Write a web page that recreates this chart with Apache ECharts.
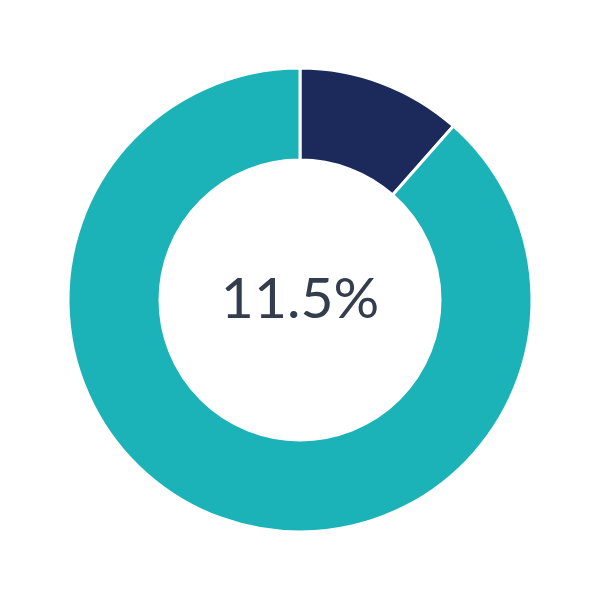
<!DOCTYPE html>
<html><head><meta charset="utf-8">
<script src="https://cdn.jsdelivr.net/npm/echarts@6/dist/echarts.min.js"></script>
<style>html,body{margin:0;padding:0;background:#fff}#c{width:600px;height:600px}</style>
</head><body><div id="c"></div>
<script>
const categories = ['Share', 'Rest'];
const values = [11.5, 88.5];
const centerLabel = '11.5%';
const colors = ['#1b2a5a', '#1bb3b8'];
const chart = echarts.init(document.getElementById('c'));
chart.setOption({
  animation: false,
  title: {
    text: centerLabel, left: 'center', top: 'middle',
    textStyle: { fontFamily: 'Lato', fontWeight: 'normal', fontSize: 57, color: '#333d4d' }
  },
  series: [{
    type: 'pie', center: ['50%', '50%'], radius: [140, 232],
    startAngle: 90, clockwise: true,
    label: { show: false }, labelLine: { show: false },
    itemStyle: { borderColor: '#fff', borderWidth: 3 },
    emphasis: { disabled: true },
    data: categories.map((c, i) => ({ name: c, value: values[i], itemStyle: { color: colors[i] } }))
  }]
});
</script></body></html>
